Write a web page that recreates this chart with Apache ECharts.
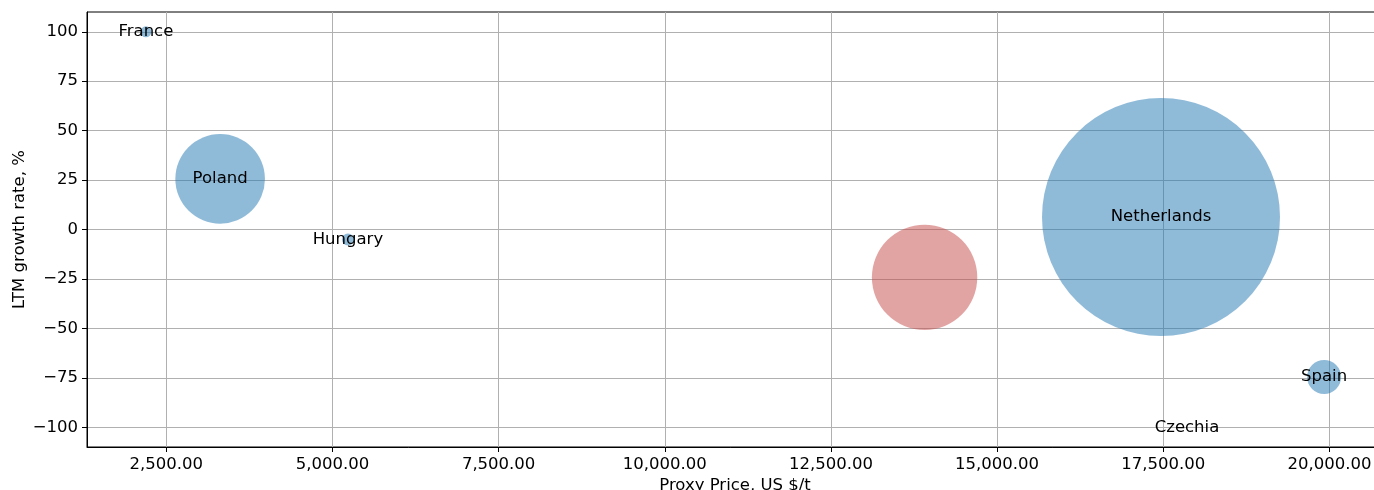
<!DOCTYPE html>
<html>
<head>
<meta charset="utf-8">
<script src="https://cdn.jsdelivr.net/npm/echarts@6/dist/echarts.min.js"></script>
<style>
  html, body { margin: 0; padding: 0; background: #fff; }
  #chart { width: 1374px; height: 490px; }
</style>
</head>
<body>
<div id="chart"></div>
<script>
// bubble data: country, proxy price, growth rate, volume (bubble area)
var countries = ['France', 'Poland', 'Hungary', '', 'Netherlands', 'Spain', 'Czechia'];
var prices    = [2193, 3310, 5233, 13909, 17466, 19920, 17857];
var growth    = [100, 25.6, -5.0, -24.2, 6.3, -74.6, -100];
var volumes   = [30, 2007, 36, 2777, 14161, 289, 0];
var highlight = [false, false, false, true, false, false, false];

var xTicks = [2500, 5000, 7500, 10000, 12500, 15000, 17500, 20000];
var yTicks = [-100, -75, -50, -25, 0, 25, 50, 75, 100];

var font = 'DejaVu Sans';
var blue = 'rgba(31,119,180,0.5)';
var red = 'rgba(197,71,71,0.5)';

var points = countries.map(function (c, i) {
  return {
    name: c,
    value: [prices[i], growth[i], volumes[i]],
    itemStyle: { color: highlight[i] ? red : blue, opacity: 1 }
  };
});

var chart = echarts.init(document.getElementById('chart'));

chart.setOption({
  animation: false,
  grid: {
    left: 87, right: -9, top: 12, bottom: 43,
    outerBoundsMode: 'none',
    containLabel: false,
    show: true, borderColor: '#000', borderWidth: 1
  },
  xAxis: {
    type: 'value',
    min: 1307, max: 20806,
    name: 'Proxy Price, US $/t',
    nameLocation: 'middle',
    nameGap: 30,
    nameMoveOverlap: false,
    nameTextStyle: { fontFamily: font, fontSize: 16.5, color: '#000', verticalAlign: 'top' },
    axisLine: { onZero: false, lineStyle: { color: '#000', width: 1 } },
    axisTick: { customValues: xTicks, length: 5, lineStyle: { color: '#000' } },
    axisLabel: {
      customValues: xTicks,
      margin: 9,
      fontFamily: font, fontSize: 16.5, color: '#000',
      formatter: function (v) {
        return v.toLocaleString('en-US', { minimumFractionDigits: 2, maximumFractionDigits: 2 });
      }
    },
    splitLine: { show: true, lineStyle: { color: '#b0b0b0', width: 1 } }
  },
  yAxis: {
    type: 'value',
    min: -110, max: 110,
    name: 'LTM growth rate, %',
    nameLocation: 'middle',
    nameGap: 59,
    nameMoveOverlap: false,
    nameTextStyle: { fontFamily: font, fontSize: 16.5, color: '#000' },
    axisLine: { show: true, onZero: false, lineStyle: { color: '#000', width: 1 } },
    axisTick: { show: true, customValues: yTicks, length: 5, lineStyle: { color: '#000' } },
    axisLabel: {
      customValues: yTicks,
      margin: 9,
      fontFamily: font, fontSize: 16.5, color: '#000',
      formatter: function (v) {
        return v < 0 ? '\u2212' + Math.abs(v) : String(v);
      }
    },
    splitLine: { show: true, lineStyle: { color: '#b0b0b0', width: 1 } }
  },
  series: [{
    type: 'scatter',
    data: points,
    symbolSize: function (d) { return 2 * Math.sqrt(d[2]); },
    itemStyle: { opacity: 1 },
    label: {
      show: true,
      position: 'inside',
      formatter: '{b}',
      fontFamily: font, fontSize: 16.5, color: '#000'
    },
    emphasis: { disabled: true }
  }]
});
</script>
</body>
</html>
